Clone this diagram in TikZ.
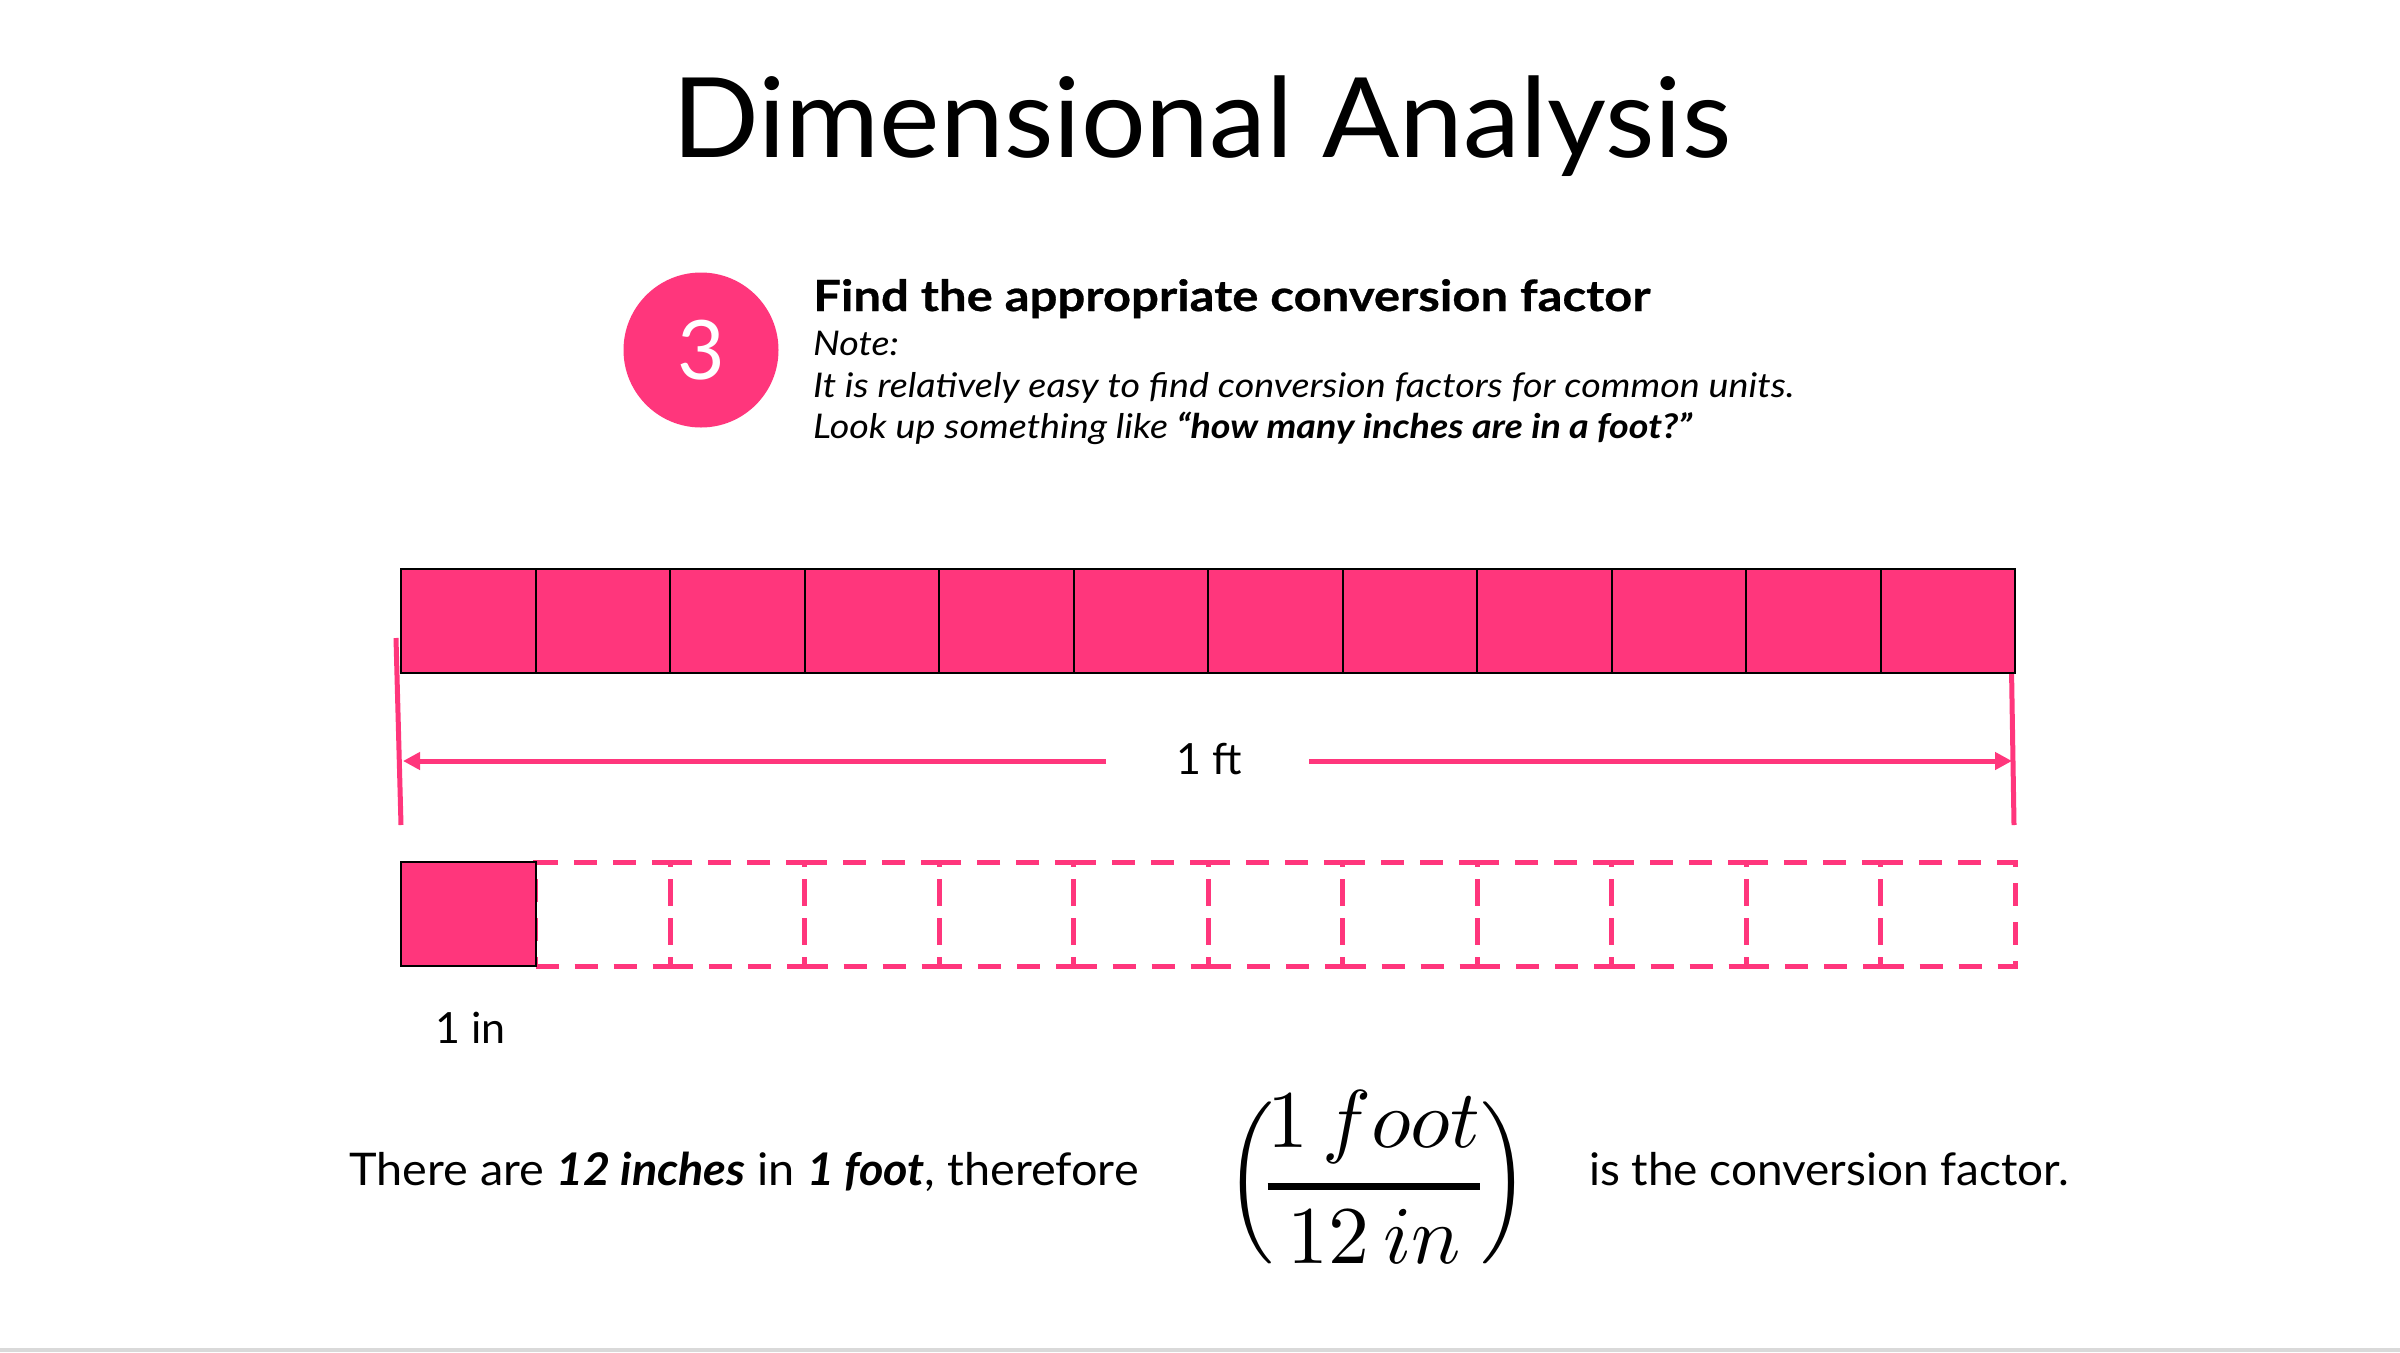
\documentclass[tikz,border=0pt]{standalone}
\usepackage{fontspec}
\usepackage{amsmath}
\usepackage{graphicx}
\setmainfont{Lato}
\newfontfamily\titlefont[FakeStretch=1.03]{Lato}
\newfontfamily\headfont[FakeStretch=1.14, BoldFeatures={FakeBold=0.6}]{Lato}
\newfontfamily\notefont[FakeStretch=1.11]{Lato}
\newfontfamily\bodyfont[FakeStretch=1.04]{Lato}
\newfontfamily\tailfont[FakeStretch=1.02]{Lato}
\usetikzlibrary{arrows.meta}
\definecolor{accent}{HTML}{FF367C}
\begin{document}
\begin{tikzpicture}[x=1pt,y=-1pt,
  cell/.style={draw=black, line width=2pt, fill=accent, minimum width=134.5pt, minimum height=104pt, inner sep=0pt},
  dcell/.style={draw=accent, line width=5pt, dashed, dash pattern=on 23pt off 16pt, minimum width=134.5pt, minimum height=104pt, inner sep=0pt},
  guide/.style={draw=accent, line width=5pt},
  dimarrow/.style={draw=accent, line width=5pt, -{Triangle[length=17pt,width=17pt]}},
  lbl/.style={anchor=base west, inner sep=0pt},
  paren/.style={inner sep=0pt}]
\useasboundingbox (0,0) rectangle (2400,1352);
\fill[white] (0,0) rectangle (2400,1352);
\fill[black!15] (0,1348) rectangle (2400,1352);

% title
\node[anchor=base, inner sep=0pt, font=\titlefont\fontsize{111}{120}\selectfont] (title) at (1202,157) {Dimensional Analysis};

% step badge and text
\node[circle, fill=accent, minimum size=155pt, inner sep=0pt, text=white, font=\fontsize{82}{90}\selectfont] (badge) at (701,350) {3};
\node[lbl, font=\headfont\fontsize{43}{48}\selectfont\bfseries] (head) at (813,311) {Find the appropriate conversion factor};
\node[lbl, font=\notefont\fontsize{34}{38}\selectfont\itshape] (note) at (813,355) {Note:};
\node[lbl, font=\notefont\fontsize{34}{38}\selectfont\itshape] (l1) at (813,397) {It is relatively easy to find conversion factors for common units.};
\node[lbl, font=\notefont\fontsize{34}{38}\selectfont\itshape] (l2) at (813,438) {Look up something like \textbf{“how many inches are in a foot?”}};

% guide lines
\coordinate (lt) at (396,638);
\coordinate (lb) at (401,825);
\coordinate (rt) at (2011,638);
\coordinate (rb) at (2014,825);
\draw[guide] (lt) -- (lb);
\draw[guide] (rt) -- (rb);

% top row of 12 cells
\foreach \i in {0,...,11} {
  \node[cell] (c\i) at ({401+134.5*\i+67.25},621) {};
}

% dimension arrow
\node[anchor=base, inner sep=0pt, font=\fontsize{43}{48}\selectfont] (ft) at (1209,774) {1 ft};
\coordinate (al) at (403,761);
\coordinate (ar) at (2012,761);
\coordinate (als) at (1106,761);
\coordinate (ars) at (1309,761);
\draw[dimarrow] (als) -- (al);
\draw[dimarrow] (ars) -- (ar);

% bottom row
\foreach \i in {1,...,11} {
  \node[dcell] (d\i) at ({401+134.5*\i+67.25},914) {};
}
\node[cell] (d0) at (468.25,914) {};
\node[lbl, font=\fontsize{43}{48}\selectfont] (inch) at (435,1043) {1 in};

% bottom sentence
\node[lbl, font=\bodyfont\fontsize{45}{50}\selectfont] (s1) at (349,1185) {There are \textbf{\itshape 12 inches} in \textbf{\itshape 1 foot}, therefore};
\node[inner sep=0pt] (frac) at (1374,1177) {\scalebox{8.2}{$\displaystyle\genfrac{}{}{0.8pt}{0}{1\,foot}{12\,in}$}};
\node[paren] (lp) at (1250,1183) {\scalebox{8.2}[9]{$\Big($}};
\node[paren] (rp) at (1505,1183) {\scalebox{8.2}[9]{$\Big)$}};
\node[lbl, font=\tailfont\fontsize{45}{50}\selectfont] (s2) at (1589,1185) {is the conversion factor.};
\end{tikzpicture}
\end{document}
